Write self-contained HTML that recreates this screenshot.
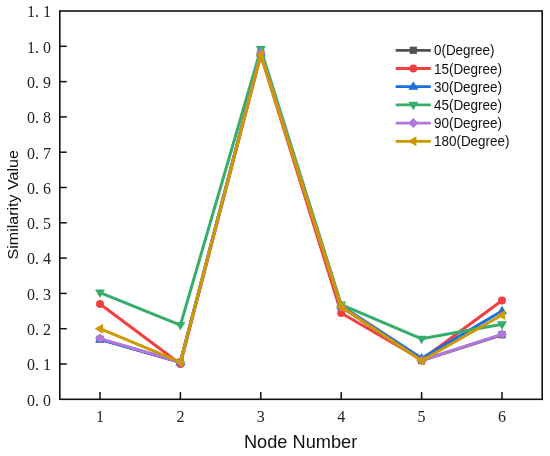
<!DOCTYPE html>
<html><head><meta charset="utf-8"><title>Similarity Value vs Node Number</title>
<style>html,body{margin:0;padding:0;background:#fff}svg{display:block}.tk{font-family:"Liberation Serif","Noto Serif CJK SC",serif;font-size:16px;fill:#222}.lb{font-family:"Liberation Sans",sans-serif;fill:#111}</style></head><body>
<svg width="550" height="456" viewBox="0 0 550 456">
<rect width="550" height="456" fill="#fff"/>
<polyline points="100.00,339.29 180.40,362.24 260.80,53.36 341.20,306.81 421.60,360.47 502.00,334.70" fill="none" stroke="#515151" stroke-width="3" stroke-linejoin="round" stroke-linecap="round"/>
<rect x="96.40" y="335.69" width="7.20" height="7.20" fill="#515151"/>
<rect x="176.80" y="358.63" width="7.20" height="7.20" fill="#515151"/>
<rect x="257.20" y="49.76" width="7.20" height="7.20" fill="#515151"/>
<rect x="337.60" y="303.21" width="7.20" height="7.20" fill="#515151"/>
<rect x="418.00" y="356.87" width="7.20" height="7.20" fill="#515151"/>
<rect x="498.40" y="331.10" width="7.20" height="7.20" fill="#515151"/>
<polyline points="100.00,303.99 180.40,364.00 260.80,55.12 341.20,312.99 421.60,359.76 502.00,300.46" fill="none" stroke="#F14040" stroke-width="3" stroke-linejoin="round" stroke-linecap="round"/>
<circle cx="100.00" cy="303.99" r="4.00" fill="#F14040"/>
<circle cx="180.40" cy="364.00" r="4.00" fill="#F14040"/>
<circle cx="260.80" cy="55.12" r="4.00" fill="#F14040"/>
<circle cx="341.20" cy="312.99" r="4.00" fill="#F14040"/>
<circle cx="421.60" cy="359.76" r="4.00" fill="#F14040"/>
<circle cx="502.00" cy="300.46" r="4.00" fill="#F14040"/>
<polyline points="100.00,339.29 180.40,362.24 260.80,53.36 341.20,305.75 421.60,358.35 502.00,311.05" fill="none" stroke="#1A6FDF" stroke-width="3" stroke-linejoin="round" stroke-linecap="round"/>
<polygon points="100.00,333.89 105.00,342.39 95.00,342.39" fill="#1A6FDF"/>
<polygon points="180.40,356.84 185.40,365.34 175.40,365.34" fill="#1A6FDF"/>
<polygon points="260.80,47.96 265.80,56.46 255.80,56.46" fill="#1A6FDF"/>
<polygon points="341.20,300.36 346.20,308.86 336.20,308.86" fill="#1A6FDF"/>
<polygon points="421.60,352.95 426.60,361.45 416.60,361.45" fill="#1A6FDF"/>
<polygon points="502.00,305.65 507.00,314.15 497.00,314.15" fill="#1A6FDF"/>
<polyline points="100.00,292.69 180.40,325.17 260.80,49.12 341.20,304.70 421.60,338.76 502.00,324.29" fill="none" stroke="#37AD6B" stroke-width="3" stroke-linejoin="round" stroke-linecap="round"/>
<polygon points="100.00,298.09 105.00,289.59 95.00,289.59" fill="#37AD6B"/>
<polygon points="180.40,330.57 185.40,322.07 175.40,322.07" fill="#37AD6B"/>
<polygon points="260.80,54.52 265.80,46.02 255.80,46.02" fill="#37AD6B"/>
<polygon points="341.20,310.10 346.20,301.60 336.20,301.60" fill="#37AD6B"/>
<polygon points="421.60,344.16 426.60,335.66 416.60,335.66" fill="#37AD6B"/>
<polygon points="502.00,329.69 507.00,321.19 497.00,321.19" fill="#37AD6B"/>
<polyline points="100.00,338.58 180.40,362.24 260.80,53.36 341.20,306.81 421.60,360.47 502.00,334.35" fill="none" stroke="#B177DE" stroke-width="3" stroke-linejoin="round" stroke-linecap="round"/>
<polygon points="100.00,333.58 105.00,338.58 100.00,343.58 95.00,338.58" fill="#B177DE"/>
<polygon points="180.40,357.24 185.40,362.24 180.40,367.24 175.40,362.24" fill="#B177DE"/>
<polygon points="260.80,48.36 265.80,53.36 260.80,58.36 255.80,53.36" fill="#B177DE"/>
<polygon points="341.20,301.81 346.20,306.81 341.20,311.81 336.20,306.81" fill="#B177DE"/>
<polygon points="421.60,355.47 426.60,360.47 421.60,365.47 416.60,360.47" fill="#B177DE"/>
<polygon points="502.00,329.35 507.00,334.35 502.00,339.35 497.00,334.35" fill="#B177DE"/>
<polyline points="100.00,328.70 180.40,362.24 260.80,54.77 341.20,306.81 421.60,360.82 502.00,314.93" fill="none" stroke="#CC9900" stroke-width="3" stroke-linejoin="round" stroke-linecap="round"/>
<polygon points="94.60,328.70 103.10,323.70 103.10,333.70" fill="#CC9900"/>
<polygon points="175.00,362.24 183.50,357.24 183.50,367.24" fill="#CC9900"/>
<polygon points="255.40,54.77 263.90,49.77 263.90,59.77" fill="#CC9900"/>
<polygon points="335.80,306.81 344.30,301.81 344.30,311.81" fill="#CC9900"/>
<polygon points="416.20,360.82 424.70,355.82 424.70,365.82" fill="#CC9900"/>
<polygon points="496.60,314.93 505.10,309.93 505.10,319.93" fill="#CC9900"/>
<rect x="59.8" y="11.0" width="482.40" height="388.30" fill="none" stroke="#111" stroke-width="1.6"/>
<line x1="59.8" y1="364.00" x2="66.8" y2="364.00" stroke="#111" stroke-width="1.5"/>
<line x1="59.8" y1="328.70" x2="66.8" y2="328.70" stroke="#111" stroke-width="1.5"/>
<line x1="59.8" y1="293.40" x2="66.8" y2="293.40" stroke="#111" stroke-width="1.5"/>
<line x1="59.8" y1="258.10" x2="66.8" y2="258.10" stroke="#111" stroke-width="1.5"/>
<line x1="59.8" y1="222.80" x2="66.8" y2="222.80" stroke="#111" stroke-width="1.5"/>
<line x1="59.8" y1="187.50" x2="66.8" y2="187.50" stroke="#111" stroke-width="1.5"/>
<line x1="59.8" y1="152.20" x2="66.8" y2="152.20" stroke="#111" stroke-width="1.5"/>
<line x1="59.8" y1="116.90" x2="66.8" y2="116.90" stroke="#111" stroke-width="1.5"/>
<line x1="59.8" y1="81.60" x2="66.8" y2="81.60" stroke="#111" stroke-width="1.5"/>
<line x1="59.8" y1="46.30" x2="66.8" y2="46.30" stroke="#111" stroke-width="1.5"/>
<line x1="100.00" y1="399.3" x2="100.00" y2="392.0" stroke="#111" stroke-width="1.5"/>
<line x1="180.40" y1="399.3" x2="180.40" y2="392.0" stroke="#111" stroke-width="1.5"/>
<line x1="260.80" y1="399.3" x2="260.80" y2="392.0" stroke="#111" stroke-width="1.5"/>
<line x1="341.20" y1="399.3" x2="341.20" y2="392.0" stroke="#111" stroke-width="1.5"/>
<line x1="421.60" y1="399.3" x2="421.60" y2="392.0" stroke="#111" stroke-width="1.5"/>
<line x1="502.00" y1="399.3" x2="502.00" y2="392.0" stroke="#111" stroke-width="1.5"/>
<text class="tk" x="27" y="405.60"><tspan>0.</tspan><tspan dx="4">0</tspan></text>
<text class="tk" x="27" y="370.30"><tspan>0.</tspan><tspan dx="4">1</tspan></text>
<text class="tk" x="27" y="335.00"><tspan>0.</tspan><tspan dx="4">2</tspan></text>
<text class="tk" x="27" y="299.70"><tspan>0.</tspan><tspan dx="4">3</tspan></text>
<text class="tk" x="27" y="264.40"><tspan>0.</tspan><tspan dx="4">4</tspan></text>
<text class="tk" x="27" y="229.10"><tspan>0.</tspan><tspan dx="4">5</tspan></text>
<text class="tk" x="27" y="193.80"><tspan>0.</tspan><tspan dx="4">6</tspan></text>
<text class="tk" x="27" y="158.50"><tspan>0.</tspan><tspan dx="4">7</tspan></text>
<text class="tk" x="27" y="123.20"><tspan>0.</tspan><tspan dx="4">8</tspan></text>
<text class="tk" x="27" y="87.90"><tspan>0.</tspan><tspan dx="4">9</tspan></text>
<text class="tk" x="27" y="52.60"><tspan>1.</tspan><tspan dx="4">0</tspan></text>
<text class="tk" x="27" y="17.30"><tspan>1.</tspan><tspan dx="4">1</tspan></text>
<text class="tk" x="100.00" y="422" text-anchor="middle">1</text>
<text class="tk" x="180.40" y="422" text-anchor="middle">2</text>
<text class="tk" x="260.80" y="422" text-anchor="middle">3</text>
<text class="tk" x="341.20" y="422" text-anchor="middle">4</text>
<text class="tk" x="421.60" y="422" text-anchor="middle">5</text>
<text class="tk" x="502.00" y="422" text-anchor="middle">6</text>
<text class="lb" x="300.6" y="448.2" text-anchor="middle" font-size="18.2">Node Number</text>
<text class="lb" transform="translate(17.6 204.8) rotate(-90) scale(1.05 1)" text-anchor="middle" font-size="15.3">Similarity Value</text>
<line x1="395.7" y1="50.30" x2="430.8" y2="50.30" stroke="#515151" stroke-width="2.8"/>
<rect x="409.70" y="46.70" width="7.20" height="7.20" fill="#515151"/>
<text class="lb" transform="translate(433.9 55.30) scale(0.9 1)" font-size="15">0(Degree)</text>
<line x1="395.7" y1="68.50" x2="430.8" y2="68.50" stroke="#F14040" stroke-width="2.8"/>
<circle cx="413.30" cy="68.50" r="4.00" fill="#F14040"/>
<text class="lb" transform="translate(433.9 73.50) scale(0.9 1)" font-size="15">15(Degree)</text>
<line x1="395.7" y1="86.70" x2="430.8" y2="86.70" stroke="#1A6FDF" stroke-width="2.8"/>
<polygon points="413.30,81.30 418.30,89.80 408.30,89.80" fill="#1A6FDF"/>
<text class="lb" transform="translate(433.9 91.70) scale(0.9 1)" font-size="15">30(Degree)</text>
<line x1="395.7" y1="104.90" x2="430.8" y2="104.90" stroke="#37AD6B" stroke-width="2.8"/>
<polygon points="413.30,110.30 418.30,101.80 408.30,101.80" fill="#37AD6B"/>
<text class="lb" transform="translate(433.9 109.90) scale(0.9 1)" font-size="15">45(Degree)</text>
<line x1="395.7" y1="123.10" x2="430.8" y2="123.10" stroke="#B177DE" stroke-width="2.8"/>
<polygon points="413.30,118.10 418.30,123.10 413.30,128.10 408.30,123.10" fill="#B177DE"/>
<text class="lb" transform="translate(433.9 128.10) scale(0.9 1)" font-size="15">90(Degree)</text>
<line x1="395.7" y1="141.30" x2="430.8" y2="141.30" stroke="#CC9900" stroke-width="2.8"/>
<polygon points="407.90,141.30 416.40,136.30 416.40,146.30" fill="#CC9900"/>
<text class="lb" transform="translate(433.9 146.30) scale(0.9 1)" font-size="15">180(Degree)</text>
</svg></body></html>
